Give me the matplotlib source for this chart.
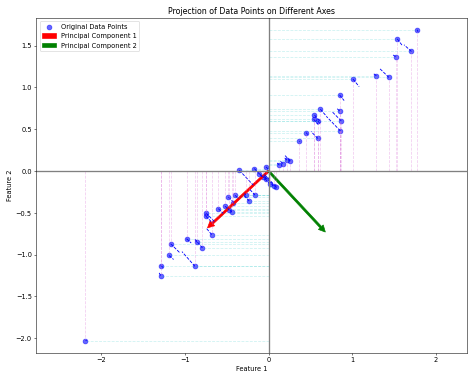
import matplotlib
matplotlib.use("Agg")
import matplotlib.pyplot as plt
import numpy as np

# data points
x_vals = np.array([1.78, 1.54, 1.71, 1.52, 1.29, 1.44, 1.01, 0.85, 0.85, 0.87,
                   0.86, 0.62, 0.55, 0.54, 0.59, 0.59, 0.45, 0.37, 0.26, 0.22,
                   0.17, 0.13, -0.03, -0.35, -0.17, -0.11, -0.07, -0.03, 0.02, 0.06,
                   0.09, -0.16, -0.27, -0.40, -0.48, -0.23, -0.42, -0.60, -0.52, -0.47,
                   -0.44, -0.75, -0.75, -0.68, -0.98, -0.86, -0.79, -1.17, -1.19, -0.88,
                   -1.29, -1.29, -2.19])
y_vals = np.array([1.69, 1.58, 1.43, 1.37, 1.14, 1.12, 1.10, 0.91, 0.72, 0.60,
                   0.48, 0.74, 0.67, 0.62, 0.60, 0.39, 0.46, 0.36, 0.12, 0.13,
                   0.09, 0.07, 0.05, 0.01, 0.03, -0.03, -0.07, -0.09, -0.16, -0.18,
                   -0.19, -0.29, -0.29, -0.29, -0.31, -0.36, -0.38, -0.45, -0.42, -0.47,
                   -0.49, -0.50, -0.54, -0.76, -0.81, -0.85, -0.92, -0.87, -1.01, -1.14,
                   -1.13, -1.25, -2.03])

# principal directions
pc1 = np.array([-0.73, -0.68])
pc2 = np.array([0.68, -0.73])

fig, ax = plt.subplots(figsize=(10, 8), dpi=47.4)

ax.scatter(x_vals, y_vals, s=55, color='blue', alpha=0.6, label='Original Data Points')

for x, y in zip(x_vals, y_vals):
    ax.plot([x, x], [0, y], '--', color='orchid', alpha=0.35, linewidth=1.2)
    ax.plot([0, x], [y, y], '--', color='c', alpha=0.2, linewidth=1.2)
    t = x * pc1[0] + y * pc1[1]
    ax.plot([x, t * pc1[0]], [y, t * pc1[1]], 'b--', linewidth=1.3)

ax.arrow(0, 0, pc1[0], pc1[1], width=0.025, head_width=0.08, head_length=0.08,
         length_includes_head=True, color='red', label='Principal Component 1')
ax.arrow(0, 0, pc2[0], pc2[1], width=0.025, head_width=0.08, head_length=0.08,
         length_includes_head=True, color='green', label='Principal Component 2')

ax.axhline(0, color='grey', linewidth=2)
ax.axvline(0, color='grey', linewidth=2)

ax.set_title('Projection of Data Points on Different Axes')
ax.set_xlabel('Feature 1')
ax.set_ylabel('Feature 2')
ax.legend(loc='upper left')
ax.axis('equal')

plt.tight_layout()
plt.savefig('out.png')
